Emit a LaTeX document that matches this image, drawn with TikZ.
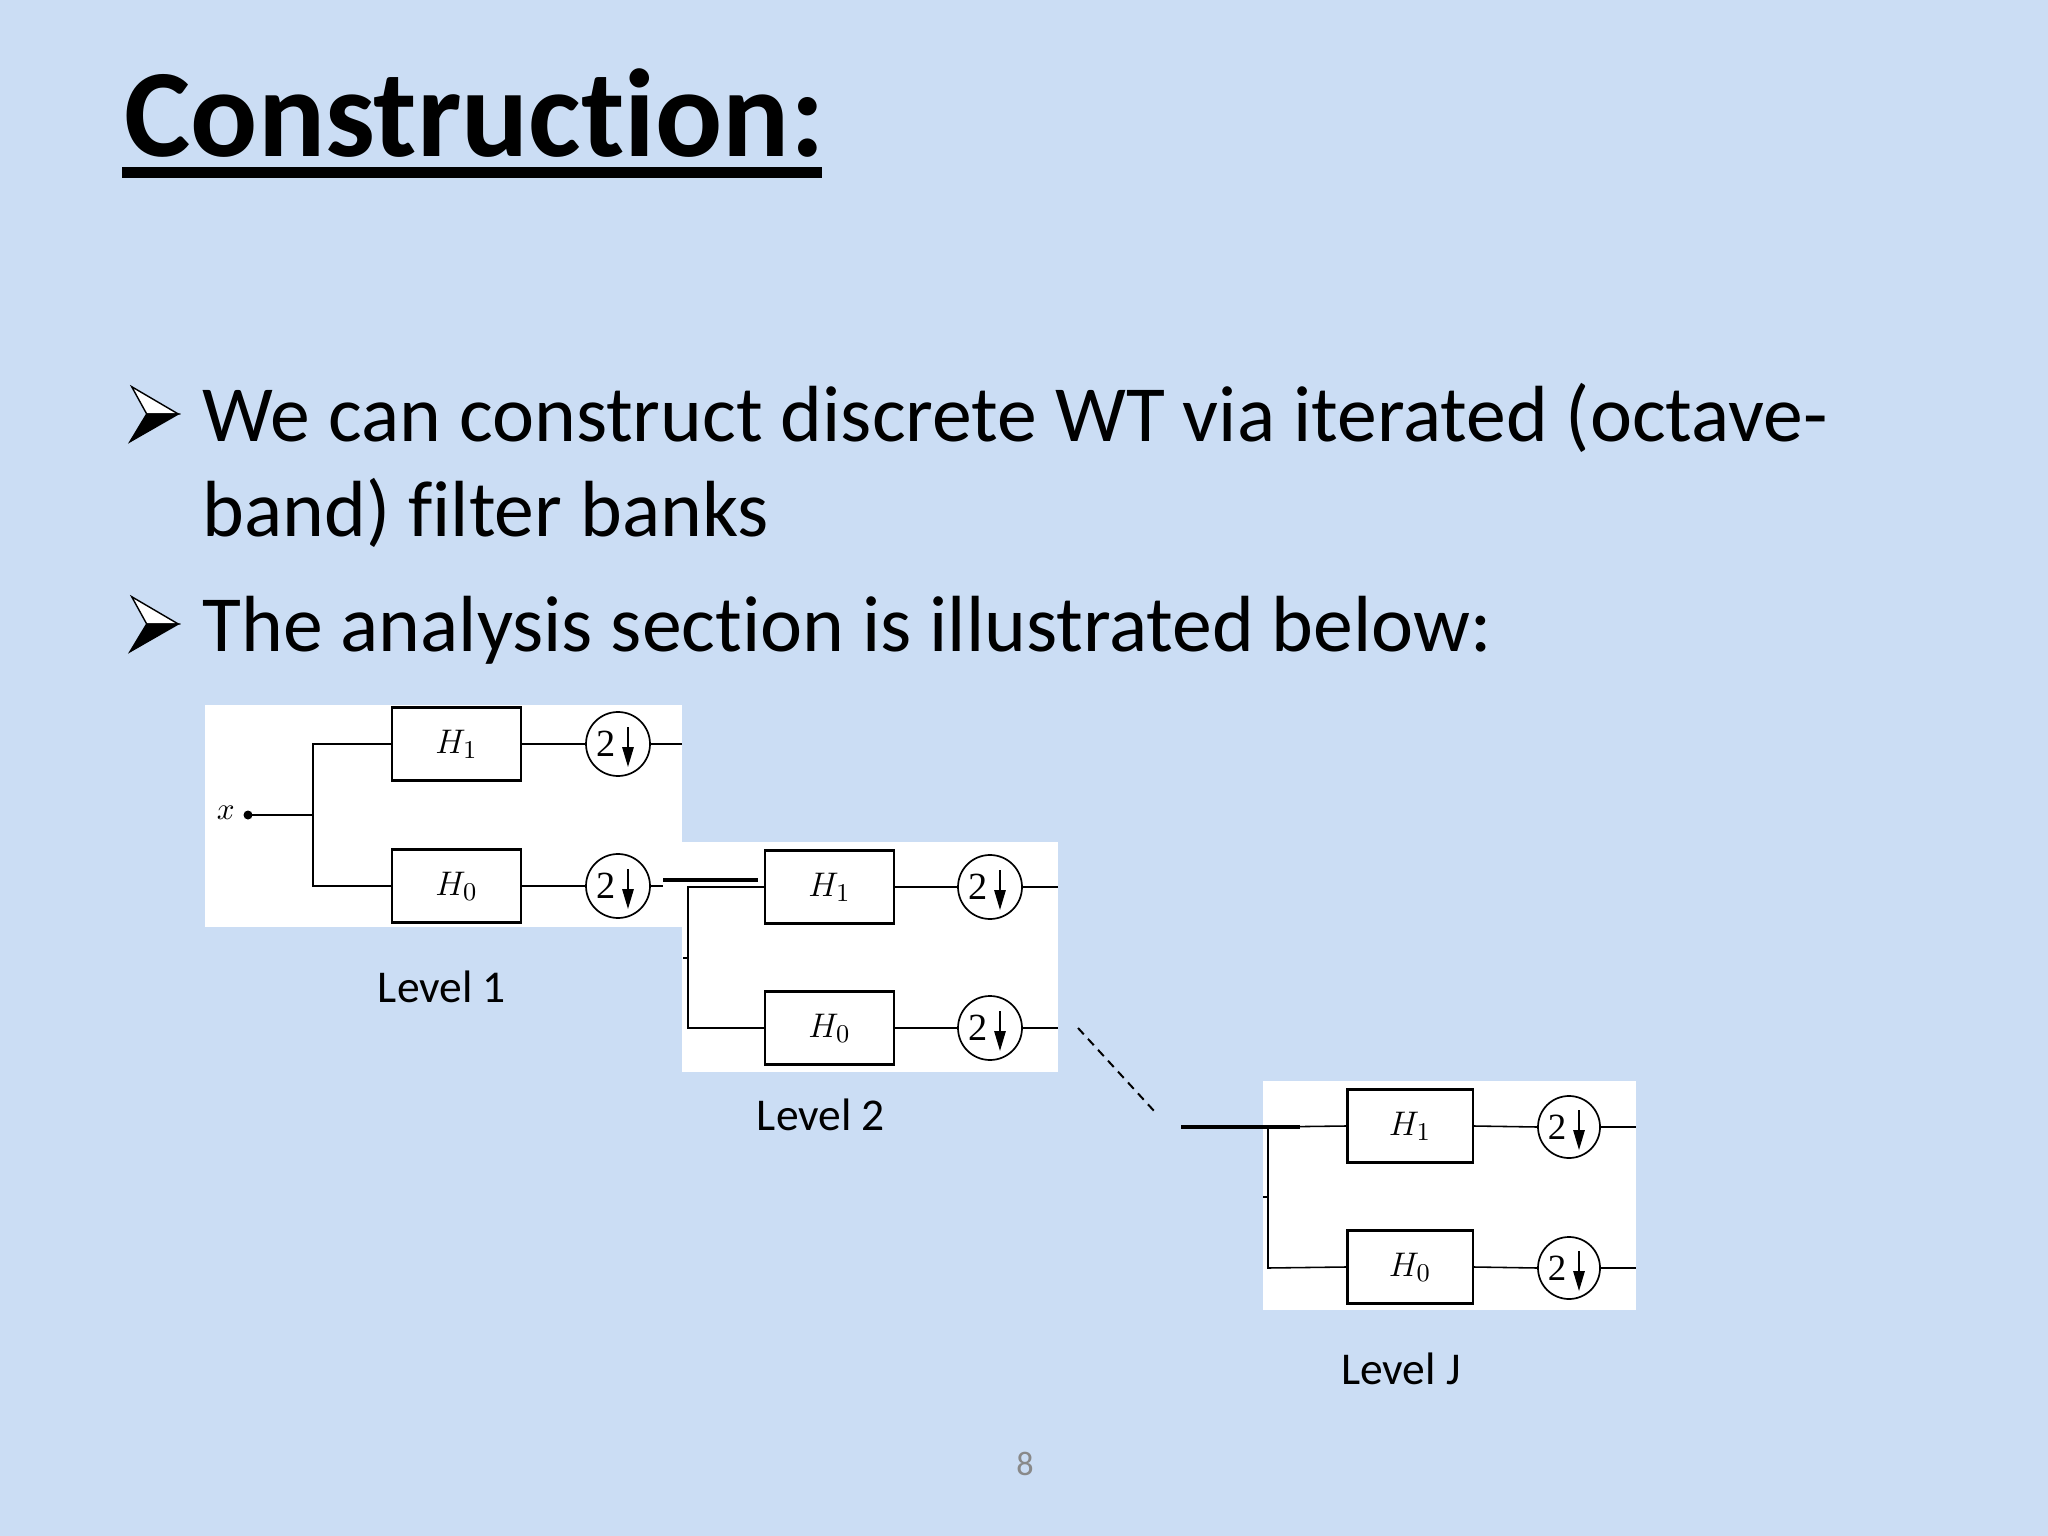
\documentclass[tikz,border=0pt]{standalone}
\usepackage{fontspec}
\setmainfont[Ligatures=NoCommon]{Carlito}
\newfontfamily\seriffont{Liberation Serif}
\usetikzlibrary{arrows.meta,calc}
\definecolor{slidebg}{RGB}{203,221,244}
\definecolor{pagegray}{RGB}{137,137,137}
\tikzset{
  filterbox/.style={draw=black,line width=0.75pt,fill=white,rectangle,inner sep=0pt,minimum width=45.35pt,minimum height=25.7pt,font=\fontsize{12.5}{14}\selectfont},
  filterboxs/.style={filterbox,minimum width=44pt},
  downcirc/.style={draw=black,line width=0.6pt,circle,inner sep=0pt,minimum size=22.5pt},
  downcircs/.style={downcirc,minimum size=21.8pt},
  wire/.style={draw=black,line width=0.55pt},
  thickwire/.style={draw=black,line width=1.4pt},
  panel/.style={fill=white},
  bodytext/.style={anchor=base west,inner sep=0pt,font=\fontsize{28}{33}\selectfont},
  leveltext/.style={anchor=base,inner sep=0pt,font=\fontsize{16}{19}\selectfont},
  bulletup/.style={fill=white,draw=black,line width=0.5pt,line join=miter},
  bulletdown/.style={fill=black,draw=black,line width=0.5pt,line join=miter},
  dsarrow/.style={draw=black,line width=0.6pt,-{Triangle[length=7pt,width=4pt]}}
}
\newcommand{\downtwo}[2]{%
  \node[inner sep=0pt,font=\seriffont\fontsize{#2}{#2}\selectfont] at ($(#1)+(-12,0)$) {2};
  \draw[dsarrow] ($(#1)+(10,-17)$) -- ($(#1)+(10,23)$);
}
\newcommand{\bulletarrow}[1]{%
  \begin{scope}[yshift=#1]
  \path[bulletup] (131.7,386.7) -- (178.3,414) -- (146.7,414) -- cycle;
  \path[bulletdown] (146.7,414) -- (178.3,414) -- (130,441.7) -- cycle;
  \end{scope}
}
\begin{document}
\begin{tikzpicture}[x=0.3515625pt,y=-0.3515625pt]
\useasboundingbox (0,0) rectangle (2048,1536);
\fill[slidebg] (0,0) rectangle (2048,1536);

% Title
\node[anchor=base west,inner sep=0pt,font=\bfseries\fontsize{44}{52}\selectfont] (title) at (124,157) {Construction:};
\fill[black] (122,167) rectangle (822,178);

% Bullets
\bulletarrow{0pt}
\bulletarrow{-73.83pt}
\node[bodytext] (l1) at (202,442) {We can construct discrete WT via iterated (octave-};
\node[bodytext] (l2) at (202,537) {band) filter banks};
\node[bodytext] (l3) at (202,652) {The analysis section is illustrated below:};

% ---------- Panel 1 ----------
\fill[panel] (205,705) rectangle (682,927);
\node[filterbox] (a1) at (456.5,744) {$H_1$};
\node[filterbox] (a0) at (456.5,886) {$H_0$};
\node[downcirc] (ac1) at (618,744) {};
\node[downcirc] (ac0) at (618,886) {};
\downtwo{ac1}{13.5}
\downtwo{ac0}{13.5}
\fill (248,815) circle[radius=4.5] coordinate (xin);
\node[anchor=east,inner sep=1pt,font=\fontsize{11}{13}\selectfont] (xlab) at ($(xin)+(-10,-2)$) {$x$};
\coordinate (asplit) at (313,815);
\coordinate (atop) at (313,744);
\coordinate (abot) at (313,886);
\coordinate (aout1) at (682,744);
\coordinate (aout0) at (663,886);
\draw[wire] (xin) -- (asplit);
\draw[wire] (a1.west) -- (atop) -- (abot) -- (a0.west);
\draw[wire] (a1.east) -- (ac1.west);
\draw[wire] (a0.east) -- (ac0.west);
\draw[wire] (ac1.east) -- (aout1);
\draw[wire] (ac0.east) -- (aout0);

% ---------- Panel 2 ----------
\fill[panel] (682,842) rectangle (1058,1072);
\node[filterbox] (b1) at (829.5,887) {$H_1$};
\node[filterbox] (b0) at (829.5,1028) {$H_0$};
\node[downcirc] (bc1) at (990,887) {};
\node[downcirc] (bc0) at (990,1028) {};
\downtwo{bc1}{13.5}
\downtwo{bc0}{13.5}
\coordinate (btop) at (688,887);
\coordinate (bbot) at (688,1028);
\coordinate (bstub) at (683,958);
\coordinate (bstubr) at (688,958);
\coordinate (bout1) at (1058,887);
\coordinate (bout0) at (1058,1028);
\draw[wire] (b1.west) -- (btop) -- (bbot) -- (b0.west);
\draw[wire] (bstub) -- (bstubr);
\draw[wire] (b1.east) -- (bc1.west);
\draw[wire] (b0.east) -- (bc0.west);
\draw[wire] (bc1.east) -- (bout1);
\draw[wire] (bc0.east) -- (bout0);
\coordinate (link1a) at (663,880);
\coordinate (link1b) at (758,880);
\draw[thickwire] (link1a) -- (link1b);

% ---------- Panel 3 ----------
\fill[panel] (1263,1081) rectangle (1636,1310);
\node[filterboxs] (c1) at (1410,1126) {$H_1$};
\node[filterboxs] (c0) at (1410,1267) {$H_0$};
\node[downcircs] (cc1) at (1569,1127) {};
\node[downcircs] (cc0) at (1569,1268) {};
\downtwo{cc1}{13}
\downtwo{cc0}{13}
\coordinate (ctop) at (1268,1127);
\coordinate (cbot) at (1268,1268);
\coordinate (cstub) at (1263,1197);
\coordinate (cstubr) at (1268,1197);
\coordinate (cout1) at (1636,1127);
\coordinate (cout0) at (1636,1268);
\draw[wire] (c1.west) -- (ctop) -- (cbot) -- (c0.west);
\draw[wire] (cstub) -- (cstubr);
\draw[wire] (c1.east) -- (cc1.west);
\draw[wire] (c0.east) -- (cc0.west);
\draw[wire] (cc1.east) -- (cout1);
\draw[wire] (cc0.east) -- (cout0);
\coordinate (link2a) at (1181,1127);
\coordinate (link2b) at (1300,1127);
\draw[thickwire] (link2a) -- (link2b);
\coordinate (dasha) at (1078,1028);
\coordinate (dashb) at (1155,1112);
\draw[black,line width=0.7pt,dash pattern=on 3pt off 2.2pt] (dasha) -- (dashb);

% Level labels
\node[leveltext] (lev1) at (442,1002) {Level 1};
\node[leveltext] (lev2) at (821,1130) {Level 2};
\node[leveltext] (levJ) at (1401,1384) {Level J};

% page number
\node[anchor=base,inner sep=0pt,text=pagegray,font=\fontsize{12}{14}\selectfont] (pnum) at (1025,1475) {8};
\end{tikzpicture}
\end{document}
